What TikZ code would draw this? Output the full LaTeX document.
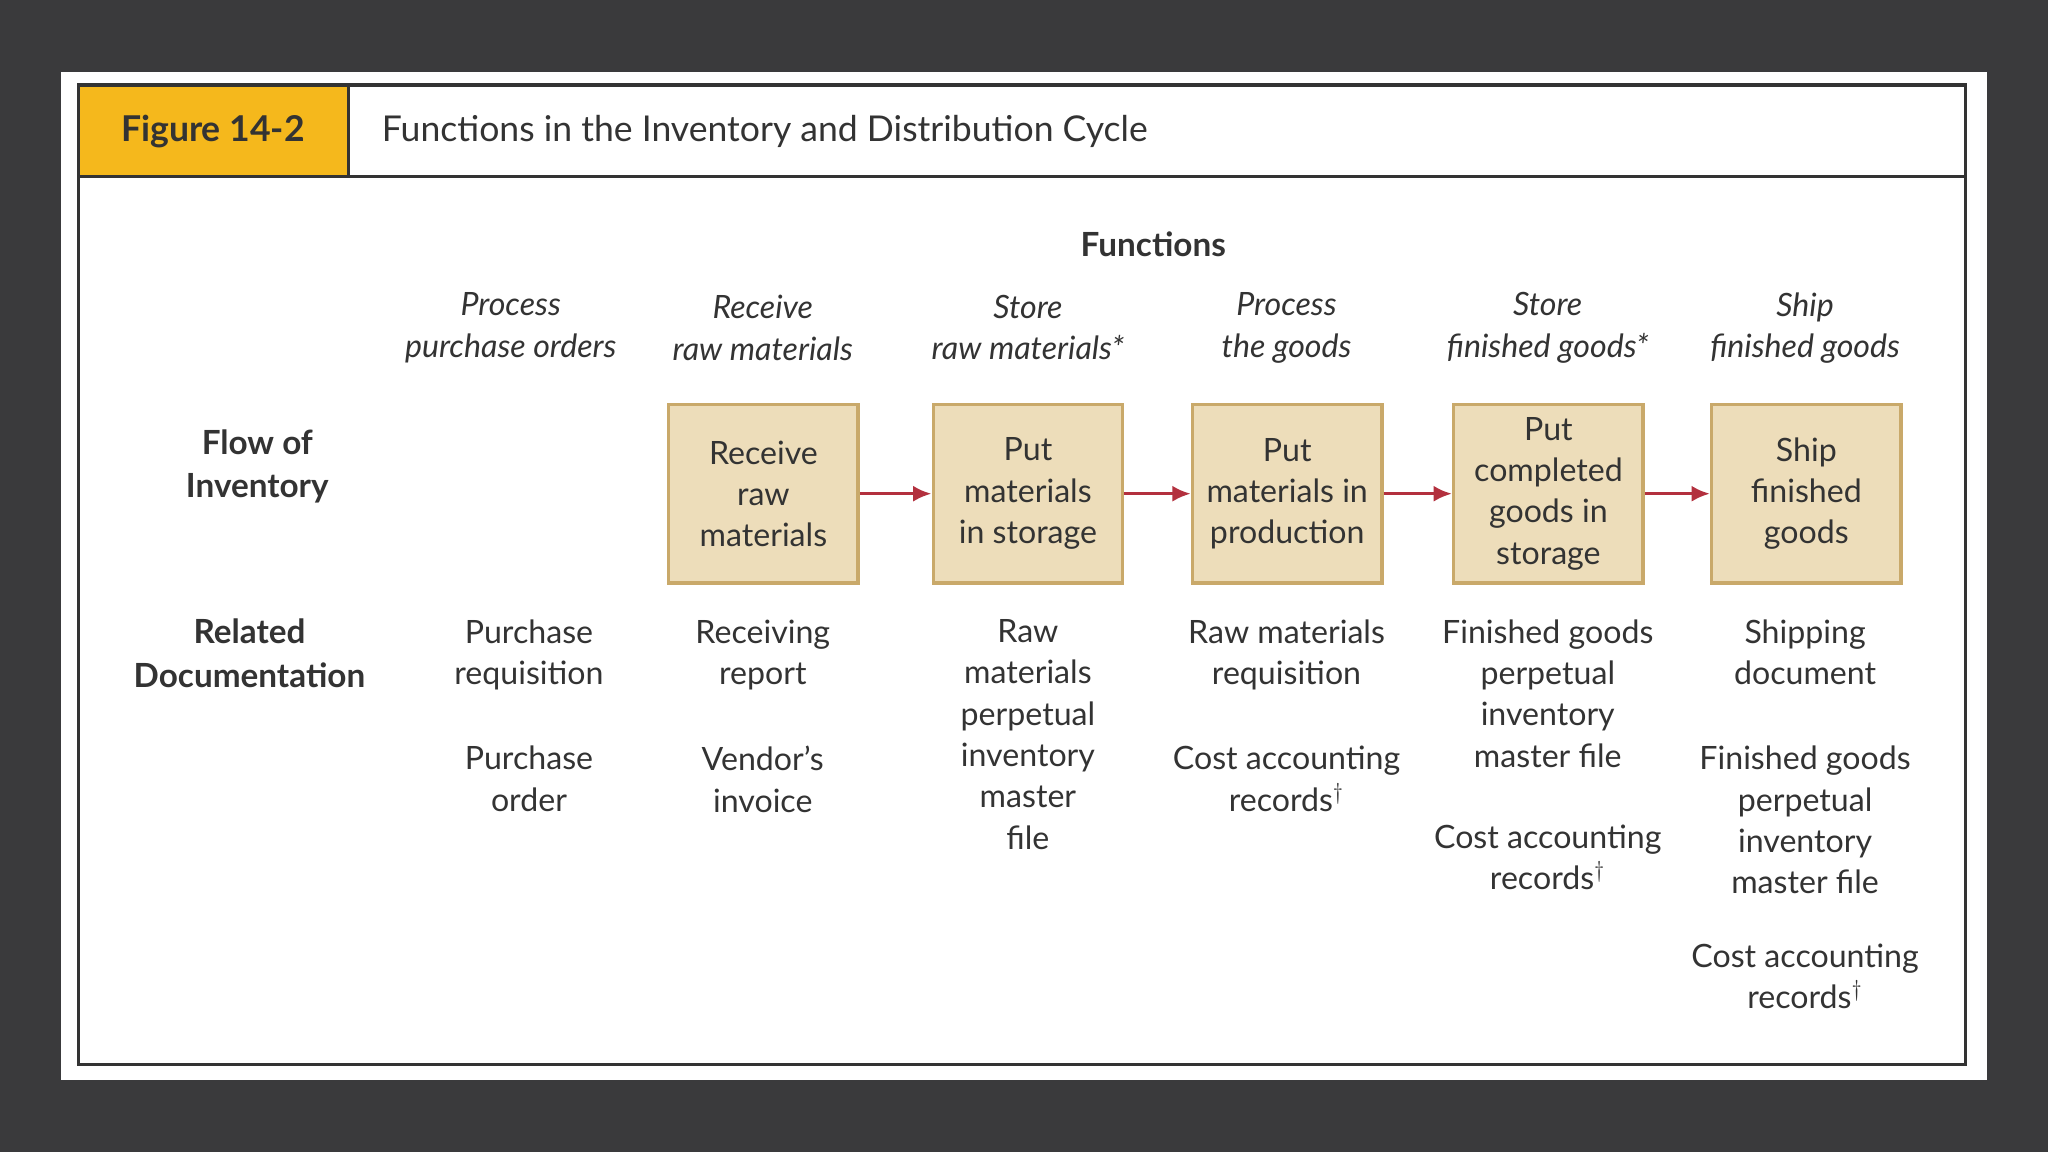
\documentclass[tikz,border=0pt]{standalone}
\usepackage{fontspec}
\setmainfont{Lato}
\usetikzlibrary{arrows.meta}
\definecolor{bg}{HTML}{3A3A3C}
\definecolor{fig}{HTML}{F5B81C}
\definecolor{boxf}{HTML}{EDDDBA}
\definecolor{boxd}{HTML}{C9A96A}
\definecolor{arr}{HTML}{B3303E}
\definecolor{txt}{HTML}{333333}
\begin{document}
\begin{tikzpicture}[x=0.02cm,y=-0.02cm,
  every node/.style={text=txt,font=\fontsize{14}{18}\selectfont,align=center,inner sep=0pt},
  fbox/.style={draw=boxd,line width=1.5pt,fill=boxf,minimum width=2.9cm,minimum height=2.74cm},
  hdr/.style={font=\fontsize{14}{18}\selectfont\itshape},
  lbl/.style={font=\fontsize{14.5}{19}\selectfont\bfseries},
  flow/.style={arr,line width=1.5pt,-{Latex[length=8pt,width=7pt]}}]
\fill[bg] (0,0) rectangle (1568,882);
\useasboundingbox (0,0) rectangle (1568,882);
\fill[white] (47,55) rectangle (1521,827);
\fill[fig] (60,65) rectangle (267,135);
\draw[txt,line width=1.5pt] (60,65) rectangle (1505,815);
\draw[txt,line width=1.5pt] (60,135) -- (1505,135);
\draw[txt,line width=1.5pt] (267,65) -- (267,135);
\node[font=\fontsize{15.5}{19}\selectfont\bfseries] (fg) at (163,101) {Figure 14-2};
\node[anchor=west,font=\fontsize{15.5}{19}\selectfont] (tt) at (292,101) {Functions in the Inventory and Distribution Cycle};
\node[lbl] (fn) at (883,187) {Functions};
\node[hdr] (h1) at (391,251) {Process\\purchase orders};
\node[hdr] (h2) at (584,251) {Receive\\raw materials};
\node[hdr] (h3) at (787,251) {Store\\raw materials*};
\node[hdr] (h4) at (985,251) {Process\\the goods};
\node[hdr] (h5) at (1185,251) {Store\\finished goods*};
\node[hdr] (h6) at (1382,251) {Ship\\finished goods};
\node[lbl] (l1) at (197,357) {Flow of\\Inventory};
\node[lbl] (l2) at (191,500) {Related\\Documentation};
\node[fbox] (b1) at (584.5,378) {Receive\\raw\\materials};
\node[fbox] (b2) at (787,378) {Put\\materials\\in storage};
\node[fbox] (b3) at (985.5,378) {Put\\materials in\\production};
\node[fbox] (b4) at (1185.5,378) {Put\\completed\\goods in\\storage};
\node[fbox] (b5) at (1383,378) {Ship\\finished\\goods};
\draw[flow] (b1) -- (b2);
\draw[flow] (b2) -- (b3);
\draw[flow] (b3) -- (b4);
\draw[flow] (b4) -- (b5);
\node[anchor=north] (d1a) at (405,474) {Purchase\\requisition};
\node[anchor=north] (d1b) at (405,571) {Purchase\\order};
\node[anchor=north] (d2a) at (584,474) {Receiving\\report};
\node[anchor=north] (d2b) at (584,571) {Vendor's\\invoice};
\node[anchor=north] (d3a) at (787,474) {Raw\\materials\\perpetual\\inventory\\master\\file};
\node[anchor=north] (d4a) at (985,474) {Raw materials\\requisition};
\node[anchor=north] (d4b) at (985,571) {Cost accounting\\records$^\dagger$};
\node[anchor=north] (d5a) at (1185,474) {Finished goods\\perpetual\\inventory\\master file};
\node[anchor=north] (d5b) at (1185,631) {Cost accounting\\records$^\dagger$};
\node[anchor=north] (d6a) at (1382,474) {Shipping\\document};
\node[anchor=north] (d6b) at (1382,571) {Finished goods\\perpetual\\inventory\\master file};
\node[anchor=north] (d6c) at (1382,722) {Cost accounting\\records$^\dagger$};
\end{tikzpicture}
\end{document}
